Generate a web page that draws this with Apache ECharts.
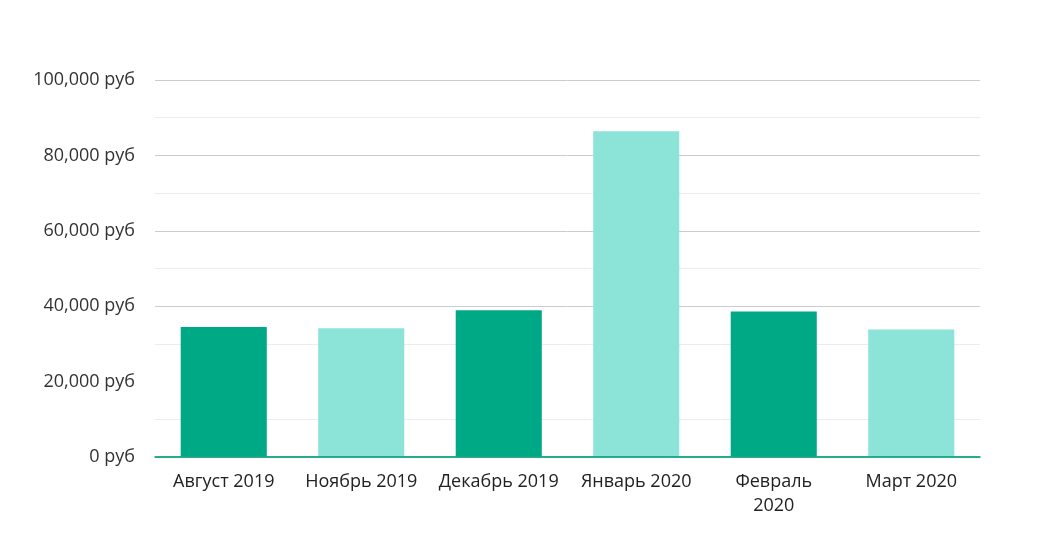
<!DOCTYPE html>
<html>
<head>
<meta charset="utf-8">
<script src="https://cdn.jsdelivr.net/npm/echarts@6/dist/echarts.min.js"></script>
<style>html,body{margin:0;padding:0;background:#fff;}#c{width:1051px;height:541px;}</style>
</head>
<body>
<div id="c"></div>
<script>
const categories = ['Август 2019', 'Ноябрь 2019', 'Декабрь 2019', 'Январь 2020', 'Февраль 2020', 'Март 2020'];
const values = [34500, 34150, 38950, 86400, 38600, 33800];
const barColors = ['#00a985', '#8ce3d8', '#00a985', '#8ce3d8', '#00a985', '#8ce3d8'];

const chart = echarts.init(document.getElementById('c'));
chart.setOption({
  animation: false,
  grid: { left: 155, right: 71, top: 80, bottom: 84, containLabel: false },
  xAxis: {
    type: 'category',
    data: categories,
    z: 10,
    axisLine: { show: true, lineStyle: { color: '#1fa585', width: 1.5 } },
    axisTick: { show: false },
    axisLabel: {
      color: '#222', fontSize: 18, fontFamily: '"Open Sans", Arial, sans-serif', margin: 13, lineHeight: 24,
      interval: 0,
      formatter: v => v === 'Февраль 2020' ? 'Февраль\n2020' : v
    }
  },
  yAxis: {
    type: 'value', min: 0, max: 100000, interval: 20000,
    axisLine: { show: false }, axisTick: { show: false },
    axisLabel: {
      color: '#333', fontSize: 18, fontFamily: '"Open Sans", Arial, sans-serif', margin: 20,
      formatter: v => v.toLocaleString('en-US') + ' руб'
    },
    splitLine: { showMinLine: false, lineStyle: { color: ['rgba(0,0,0,0)', '#cccccc', '#cccccc', '#cccccc', '#cccccc', '#cccccc'], width: 1 } },
    minorTick: { show: false, splitNumber: 2 },
    minorSplitLine: { show: true, lineStyle: { color: '#ececec', width: 1 } }
  },
  series: [{
    type: 'bar',
    data: values.map((v, i) => ({ value: v, itemStyle: { color: barColors[i] } })),
    barWidth: '62.6%',
    markLine: {
      silent: true, symbol: 'none', label: { show: false },
      lineStyle: { color: '#1fa585', width: 1.5, type: 'solid' },
      data: [{ yAxis: 0 }]
    }
  }]
});
</script>
</body>
</html>
